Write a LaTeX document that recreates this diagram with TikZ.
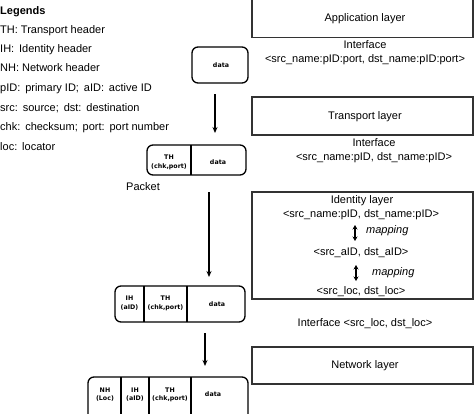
\documentclass[tikz,border=0pt]{standalone}
\usepackage{fontspec}
\setmainfont{Liberation Sans}
\newfontfamily\pkfont{DejaVu Sans}
\usetikzlibrary{arrows.meta,calc}
\begin{document}
\begin{tikzpicture}[x=1pt,y=-1pt,
  txt/.style={inner sep=0pt,font=\fontsize{11}{13.5}\selectfont,text height=8pt,text depth=2.5pt},
  leg/.style={txt,anchor=west},
  layerbox/.style={draw=black!80,line width=1.1pt,minimum width=221pt,inner sep=0pt},
  pkt/.style={draw=black,line width=1.3pt,rounded corners=6pt,inner sep=0pt},
  pktxt/.style={inner sep=0pt,font=\pkfont\bfseries\fontsize{6.3}{7}\selectfont},
  arr/.style={line width=1.1pt,-{Stealth[length=6pt,width=5pt]}},
  maparr/.style={line width=1.6pt,{Stealth[length=4.5pt,width=5pt]}-{Stealth[length=4.5pt,width=5pt]}}
]
\useasboundingbox (0,0) rectangle (474,413);
\clip (0,0) rectangle (474,413);

% Legend
\node[txt,anchor=west,font=\fontsize{11}{13.5}\selectfont\bfseries] (lg) at (0,12) {Legends};
\node[leg] (l1) at (0,31) {TH: Transport header};
\node[leg] (l2) at (0,50) {IH:\ \,Identity header};
\node[leg] (l3) at (0,69) {NH: Network header};
\node[leg] (l4) at (0,89) {pID:\ \,primary ID;\ \,aID:\ \,active ID};
\node[leg] (l5) at (0,109) {src:\ \,source;\ \,dst:\ \,destination};
\node[leg] (l6) at (0,128) {chk:\ \,checksum;\ \,port:\ \,port number};
\node[leg] (l7) at (0,148) {loc:\ \,locator};

% Right-hand layer boxes
\node[layerbox,minimum height=40pt] (app) at (362.5,17.5) {};
\node[txt] (appt) at (365,19) {Application layer};
\node[txt,align=center] (if1) at (365,59.5) {Interface\\<src\_name:pID:port, dst\_name:pID:port>};
\node[layerbox,minimum height=38pt] (tr) at (362.5,116) {};
\node[txt] (trt) at (365,117) {Transport layer};
\node[txt,align=center] (if2) at (374,157.5) {Interface\\<src\_name:pID, dst\_name:pID>};
\node[layerbox,minimum height=107pt] (id) at (362.5,245.5) {};
\node[txt] (idt) at (362,201) {Identity layer};
\node[txt] (id1) at (361,215) {<src\_name:pID, dst\_name:pID>};
\coordinate (m1a) at (355,225);
\coordinate (m1b) at (355,241);
\draw[maparr] (m1a) -- (m1b);
\node[txt,anchor=west,font=\fontsize{11}{13.5}\selectfont\itshape] (m1t) at (366,231) {mapping};
\node[txt] (id2) at (361,253) {<src\_aID, dst\_aID>};
\coordinate (m2a) at (356,265);
\coordinate (m2b) at (356,281);
\draw[maparr] (m2a) -- (m2b);
\node[txt,anchor=west,font=\fontsize{11}{13.5}\selectfont\itshape] (m2t) at (372,273) {mapping};
\node[txt] (id3) at (361,292) {<src\_loc, dst\_loc>};
\node[txt] (if3) at (365,324) {Interface <src\_loc, dst\_loc>};
\node[layerbox,minimum height=37pt] (nw) at (362.5,365.5) {};
\node[txt] (nwt) at (365,366) {Network layer};

% Packets
\node[pkt,minimum width=56pt,minimum height=36pt] (p1) at (220,65) {};
\node[pktxt] (p1d) at (221,65) {data};

\node[pkt,minimum width=99pt,minimum height=30pt] (p2) at (196.5,160) {};
\draw[line width=1.1pt] (191,145) -- (191,175);
\node[pktxt] (p2a) at (169,157) {TH};
\node[pktxt] (p2b) at (169,167) {(chk,port)};
\node[pktxt] (p2d) at (218,162) {data};
\node[txt] (pk) at (143,188) {Packet};

\node[pkt,minimum width=130pt,minimum height=36pt] (p3) at (180,304) {};
\draw[line width=1.1pt] (144,286) -- (144,322);
\draw[line width=1.1pt] (187,286) -- (187,322);
\node[pktxt] (p3a) at (129.5,298) {IH};
\node[pktxt] (p3b) at (129.5,308) {(aID)};
\node[pktxt] (p3c) at (165.5,298) {TH};
\node[pktxt] (p3e) at (165.5,308) {(chk,port)};
\node[pktxt] (p3d) at (217,304) {data};

\node[pkt,minimum width=160pt,minimum height=50pt] (p4) at (168,402) {};
\draw[line width=1.1pt] (121,377) -- (121,427);
\draw[line width=1.1pt] (149,377) -- (149,427);
\draw[line width=1.1pt] (191,377) -- (191,427);
\node[pktxt] (p4a) at (105,390) {NH};
\node[pktxt] (p4b) at (105,399) {(Loc)};
\node[pktxt] (p4c) at (135,390) {IH};
\node[pktxt] (p4e) at (135,399) {(aID)};
\node[pktxt] (p4f) at (170,390) {TH};
\node[pktxt] (p4g) at (170,399) {(chk,port)};
\node[pktxt] (p4d) at (213,394) {data};

% Arrows between packets
\coordinate (a1s) at (215,94);
\coordinate (a1e) at (215,133);
\draw[arr] (a1s) -- (a1e);
\coordinate (a2s) at (209,192);
\coordinate (a2e) at (209,277);
\draw[arr] (a2s) -- (a2e);
\coordinate (a3s) at (205,333);
\coordinate (a3e) at (205,366);
\draw[arr] (a3s) -- (a3e);
\end{tikzpicture}
\end{document}
